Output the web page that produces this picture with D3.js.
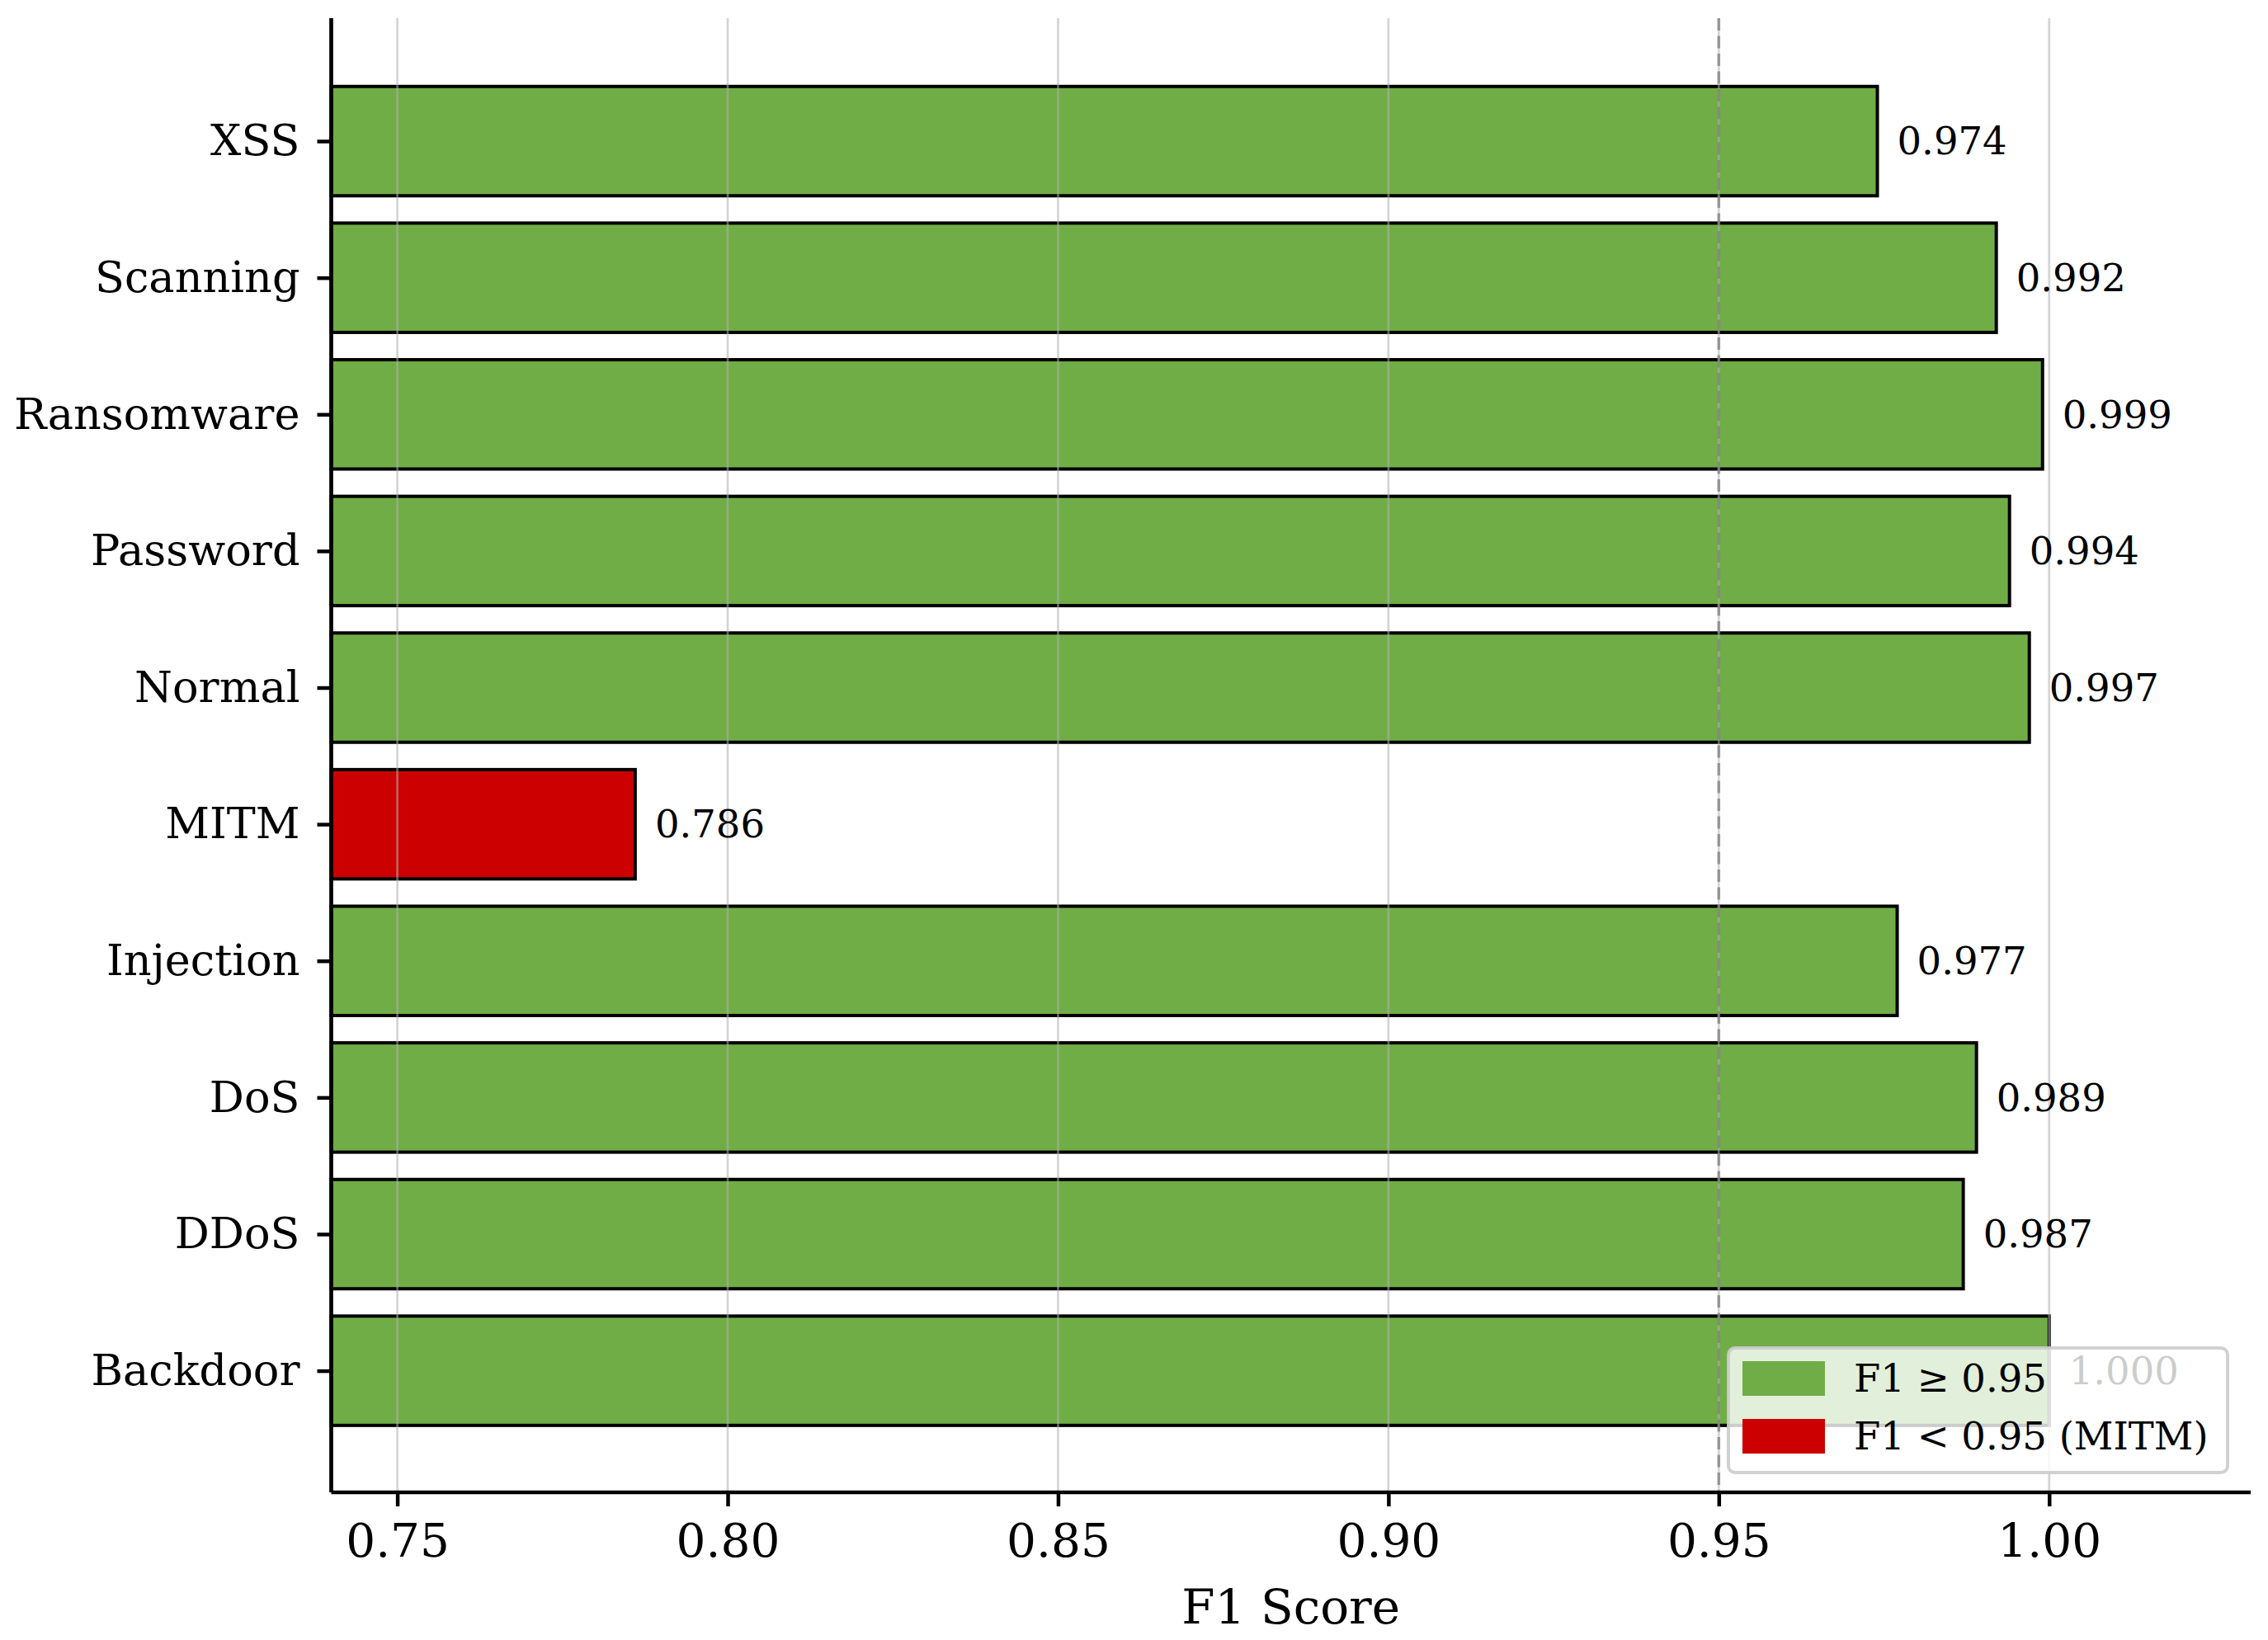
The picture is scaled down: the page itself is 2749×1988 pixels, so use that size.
<!DOCTYPE html>
<html><head><meta charset="utf-8">
<script src="https://cdn.jsdelivr.net/npm/d3@7"></script>
<style>body{margin:0;background:#fff}svg{display:block}</style>
</head><body>
<script>
const categories = ["Backdoor","DDoS","DoS","Injection","MITM","Normal","Password","Ransomware","Scanning","XSS"];
const f1Scores = [1.000,0.987,0.989,0.977,0.786,0.997,0.994,0.999,0.992,0.974];
const xTicks = [0.75,0.80,0.85,0.90,0.95,1.00];
const threshold = 0.95;
const legendLabels = ["F1 \u2265 0.95","F1 < 0.95 (MITM)"];
const colorGood = "#70ad47", colorBad = "#cc0000";

const W = 2749, H = 1988;
const L = 401.5, R = 2728, T = 22, B = 1809;
const font = "'DejaVu Serif', serif";

const svg = d3.select("body").append("svg").attr("width", W).attr("height", H);
const x = d3.scaleLinear().domain([0.74, 1.0305]).range([L, R]);
const y = d3.scaleLinear().domain([-0.89, 9.9]).range([B, T]);
const barH = 0.8;

// bars
svg.append("g").selectAll("rect").data(categories).join("rect")
  .attr("x", x(0.74))
  .attr("y", (d,i) => y(i + barH/2))
  .attr("width", (d,i) => x(f1Scores[i]) - x(0.74))
  .attr("height", y(0) - y(barH))
  .attr("fill", (d,i) => f1Scores[i] >= threshold ? colorGood : colorBad)
  .attr("stroke", "#000").attr("stroke-width", 4);

// grid (above bars)
svg.append("g").selectAll("line").data(xTicks).join("line")
  .attr("x1", d => x(d)).attr("x2", d => x(d))
  .attr("y1", T).attr("y2", B)
  .attr("stroke", "#b0b0b0").attr("stroke-opacity", 0.55).attr("stroke-width", 2.7);

// threshold line
svg.append("line")
  .attr("x1", x(threshold)).attr("x2", x(threshold)).attr("y1", T).attr("y2", B)
  .attr("stroke", "#808080").attr("stroke-opacity", 0.75).attr("stroke-width", 3.5)
  .attr("stroke-dasharray", "15,6.5");

// value labels
svg.append("g").selectAll("text").data(categories).join("text")
  .attr("x", (d,i) => x(f1Scores[i] + 0.003))
  .attr("y", (d,i) => y(i))
  .attr("dy", "0.35em")
  .attr("font-family", font).attr("font-size", 46.5)
  .text((d,i) => f1Scores[i].toFixed(3));

// x axis
const xAxis = svg.append("g").attr("transform", `translate(0,${B})`)
  .call(d3.axisBottom(x).tickValues(xTicks).tickFormat(d3.format(".2f")).tickSize(17).tickPadding(21));
xAxis.select(".domain").attr("stroke-width", 4.7).attr("d", `M${L},0H${R}`);
xAxis.selectAll(".tick line").attr("stroke-width", 4.5);
xAxis.selectAll(".tick text").attr("font-family", font).attr("font-size", 56.5).attr("fill", "#000");

// y axis
const yAxis = svg.append("g").attr("transform", `translate(${L},0)`)
  .call(d3.axisLeft(y).tickValues(d3.range(categories.length)).tickFormat(i => categories[i]).tickSize(17).tickPadding(21));
yAxis.select(".domain").attr("stroke-width", 4.7).attr("d", `M0,${T}V${B}`);
yAxis.selectAll(".tick line").attr("stroke-width", 4.5);
yAxis.selectAll(".tick text").attr("font-family", font).attr("font-size", 52.5).attr("fill", "#000");

// x label
svg.append("text").attr("x", (L + R)/2).attr("y", 1968)
  .attr("text-anchor", "middle").attr("font-family", font).attr("font-size", 58)
  .text("F1 Score");

// legend
const lg = svg.append("g");
lg.append("rect").attr("x", 2095).attr("y", 1634).attr("width", 605).attr("height", 151)
  .attr("rx", 8).attr("fill", "#fff").attr("fill-opacity", 0.8)
  .attr("stroke", "#cccccc").attr("stroke-opacity", 0.9).attr("stroke-width", 4);
const lcolors = [colorGood, colorBad];
legendLabels.forEach((t, k) => {
  const cy = 1671 + k * 70;
  lg.append("rect").attr("x", 2112).attr("y", cy - 21).attr("width", 100).attr("height", 42).attr("fill", lcolors[k]);
  lg.append("text").attr("x", 2247).attr("y", cy).attr("dy", "0.35em")
    .attr("font-family", font).attr("font-size", 46.5).text(t);
});
</script>
</body></html>
